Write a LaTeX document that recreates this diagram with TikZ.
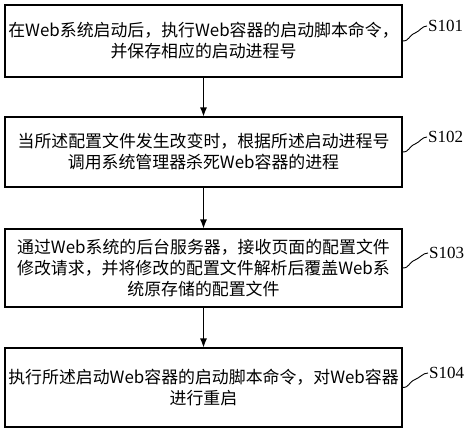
\documentclass[tikz,border=0pt]{standalone}
\usepackage{fontspec}
\setmainfont{Liberation Serif}
\newfontfamily\cjk{Noto Sans CJK SC}
\usetikzlibrary{arrows.meta}
\begin{document}
\begin{tikzpicture}[x=1pt,y=1pt,
  stepbox/.style={draw, line width=1.1pt, minimum width=397pt, align=center, inner sep=0pt,
    font=\cjk\fontsize{16.9}{21}\selectfont},
  flow/.style={line width=1.1pt, -{Latex[length=9pt,width=7pt]}},
  squig/.style={line width=0.9pt},
  lbl/.style={anchor=west, inner sep=1pt, font=\fontsize{17}{18}\selectfont}]
\useasboundingbox (0,0) rectangle (474,-432);
\node[stepbox, minimum height=72pt] (b1) at (203.5,-41) {在Web系统启动后，执行Web容器的启动脚本命令，\\并保存相应的启动进程号};
\node[stepbox, minimum height=70pt] (b2) at (203.5,-152) {当所述配置文件发生改变时，根据所述启动进程号\\调用系统管理器杀死Web容器的进程};
\node[stepbox, minimum height=78pt] (b3) at (203.5,-268) {通过Web系统的后台服务器，接收页面的配置文件\\修改请求，并将修改的配置文件解析后覆盖Web系\\统原存储的配置文件};
\node[stepbox, minimum height=79pt] (b4) at (203.5,-387.5) {执行所述启动Web容器的启动脚本命令，对Web容器\\进行重启};
\draw[flow] (b1) -- (b2);
\draw[flow] (b2) -- (b3);
\draw[flow] (b3) -- (b4);
\coordinate (e1) at (427,-26);
\coordinate (e2) at (427,-137);
\coordinate (e3) at (428,-253);
\coordinate (e4) at (428,-373);
\foreach \i in {1,2,3,4}{
  \draw[squig] (b\i.east) .. controls +(7,0) and +(-7,-3) .. ++(12.5,8) .. controls +(5,2) and +(-5,0) .. (e\i);
}
\node[lbl] (l1) at (e1) {S101};
\node[lbl] (l2) at (e2) {S102};
\node[lbl] (l3) at (e3) {S103};
\node[lbl] (l4) at (e4) {S104};
\end{tikzpicture}
\end{document}
